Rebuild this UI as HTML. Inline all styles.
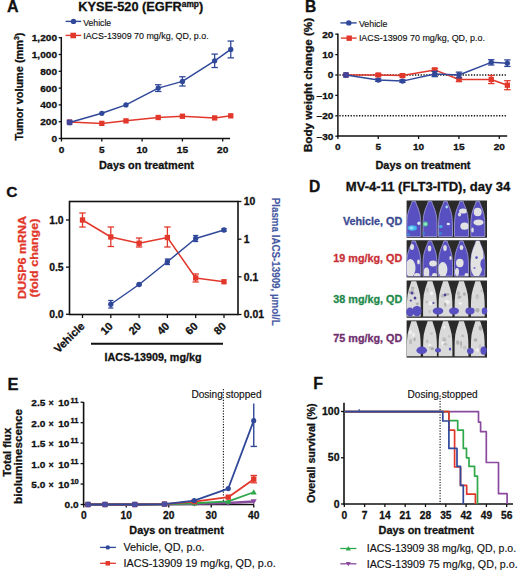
<!DOCTYPE html>
<html><head><meta charset="utf-8"><style>
html,body{margin:0;padding:0;background:#fff;}
svg{display:block;font-family:"Liberation Sans", sans-serif;}
</style></head><body>
<svg width="520" height="571" viewBox="0 0 520 571">
<rect width="520" height="571" fill="#fff"/>
<text x="7.00" y="12.00" font-size="16" font-weight="bold" text-anchor="start" fill="#111"  stroke="#111" stroke-width="0.3">A</text>
<text x="78.3" y="11" font-size="12.75" font-weight="bold" fill="#111" stroke="#111" stroke-width="0.3">KYSE-520 (EGFR<tspan font-size="8.4" dy="-3.6">amp</tspan><tspan dy="3.6">)</tspan></text>
<line x1="65.60" y1="21.40" x2="81.20" y2="21.40" stroke="#30489a" stroke-width="1.4" />
<circle cx="73.50" cy="21.40" r="2.7" fill="#30489a"/>
<text x="83.20" y="25.60" font-size="9.4" font-weight="normal" text-anchor="start" fill="#111" textLength="28" lengthAdjust="spacingAndGlyphs"  stroke="#111" stroke-width="0.15">Vehicle</text>
<line x1="65.60" y1="35.40" x2="81.20" y2="35.40" stroke="#e2382c" stroke-width="1.4" />
<rect x="70.40" y="32.70" width="5.6" height="5.6" fill="#e2382c"/>
<text x="83.20" y="38.80" font-size="9.4" font-weight="normal" text-anchor="start" fill="#111" textLength="125.5" lengthAdjust="spacingAndGlyphs"  stroke="#111" stroke-width="0.15">IACS-13909 70 mg/kg, QD, p.o.</text>
<line x1="61.30" y1="37.00" x2="61.30" y2="139.20" stroke="#111" stroke-width="1.5" />
<line x1="60.60" y1="138.50" x2="230.00" y2="138.50" stroke="#111" stroke-width="1.5" />
<line x1="58.70" y1="138.50" x2="61.30" y2="138.50" stroke="#111" stroke-width="1.3" />
<text transform="translate(57.00,141.90) scale(1.02,1)" font-size="9.9" font-weight="bold" text-anchor="end" fill="#111"  stroke="#111" stroke-width="0.3">0</text>
<line x1="58.70" y1="121.70" x2="61.30" y2="121.70" stroke="#111" stroke-width="1.3" />
<text transform="translate(57.00,125.10) scale(1.02,1)" font-size="9.9" font-weight="bold" text-anchor="end" fill="#111"  stroke="#111" stroke-width="0.3">200</text>
<line x1="58.70" y1="104.90" x2="61.30" y2="104.90" stroke="#111" stroke-width="1.3" />
<text transform="translate(57.00,108.30) scale(1.02,1)" font-size="9.9" font-weight="bold" text-anchor="end" fill="#111"  stroke="#111" stroke-width="0.3">400</text>
<line x1="58.70" y1="88.10" x2="61.30" y2="88.10" stroke="#111" stroke-width="1.3" />
<text transform="translate(57.00,91.50) scale(1.02,1)" font-size="9.9" font-weight="bold" text-anchor="end" fill="#111"  stroke="#111" stroke-width="0.3">600</text>
<line x1="58.70" y1="71.30" x2="61.30" y2="71.30" stroke="#111" stroke-width="1.3" />
<text transform="translate(57.00,74.70) scale(1.02,1)" font-size="9.9" font-weight="bold" text-anchor="end" fill="#111"  stroke="#111" stroke-width="0.3">800</text>
<line x1="58.70" y1="54.50" x2="61.30" y2="54.50" stroke="#111" stroke-width="1.3" />
<text transform="translate(57.00,57.90) scale(1.02,1)" font-size="9.9" font-weight="bold" text-anchor="end" fill="#111"  stroke="#111" stroke-width="0.3">1,000</text>
<line x1="58.70" y1="37.70" x2="61.30" y2="37.70" stroke="#111" stroke-width="1.3" />
<text transform="translate(57.00,41.10) scale(1.02,1)" font-size="9.9" font-weight="bold" text-anchor="end" fill="#111"  stroke="#111" stroke-width="0.3">1,200</text>
<line x1="61.50" y1="138.50" x2="61.50" y2="141.50" stroke="#111" stroke-width="1.3" />
<text transform="translate(61.50,152.50) scale(1.02,1)" font-size="9.9" font-weight="bold" text-anchor="middle" fill="#111"  stroke="#111" stroke-width="0.3">0</text>
<line x1="101.80" y1="138.50" x2="101.80" y2="141.50" stroke="#111" stroke-width="1.3" />
<text transform="translate(101.80,152.50) scale(1.02,1)" font-size="9.9" font-weight="bold" text-anchor="middle" fill="#111"  stroke="#111" stroke-width="0.3">5</text>
<line x1="142.10" y1="138.50" x2="142.10" y2="141.50" stroke="#111" stroke-width="1.3" />
<text transform="translate(142.10,152.50) scale(1.02,1)" font-size="9.9" font-weight="bold" text-anchor="middle" fill="#111"  stroke="#111" stroke-width="0.3">10</text>
<line x1="182.40" y1="138.50" x2="182.40" y2="141.50" stroke="#111" stroke-width="1.3" />
<text transform="translate(182.40,152.50) scale(1.02,1)" font-size="9.9" font-weight="bold" text-anchor="middle" fill="#111"  stroke="#111" stroke-width="0.3">15</text>
<line x1="222.70" y1="138.50" x2="222.70" y2="141.50" stroke="#111" stroke-width="1.3" />
<text transform="translate(222.70,152.50) scale(1.02,1)" font-size="9.9" font-weight="bold" text-anchor="middle" fill="#111"  stroke="#111" stroke-width="0.3">20</text>
<text x="146.50" y="168.80" font-size="11" font-weight="bold" text-anchor="middle" fill="#111" textLength="95" lengthAdjust="spacingAndGlyphs"  stroke="#111" stroke-width="0.3">Days on treatment</text>
<text transform="translate(22.8,86.5) rotate(-90)" font-size="11" font-weight="bold" text-anchor="middle" fill="#111" textLength="108" lengthAdjust="spacingAndGlyphs" stroke="#111" stroke-width="0.3">Tumor volume (mm<tspan font-size="7" dy="-4">3</tspan><tspan dy="4">)</tspan></text>
<polyline points="69.56,122.12 101.80,123.38 125.98,120.86 158.22,117.50 182.40,116.24 214.64,117.92 230.76,115.82" fill="none" stroke="#e2382c" stroke-width="1.5" stroke-linejoin="round" />
<rect x="66.90" y="119.46" width="5.319999999999999" height="5.319999999999999" fill="#e2382c"/>
<rect x="99.14" y="120.72" width="5.319999999999999" height="5.319999999999999" fill="#e2382c"/>
<rect x="123.32" y="118.20" width="5.319999999999999" height="5.319999999999999" fill="#e2382c"/>
<rect x="155.56" y="114.84" width="5.319999999999999" height="5.319999999999999" fill="#e2382c"/>
<rect x="179.74" y="113.58" width="5.319999999999999" height="5.319999999999999" fill="#e2382c"/>
<rect x="211.98" y="115.26" width="5.319999999999999" height="5.319999999999999" fill="#e2382c"/>
<rect x="228.10" y="113.16" width="5.319999999999999" height="5.319999999999999" fill="#e2382c"/>
<line x1="158.22" y1="91.46" x2="158.22" y2="84.74" stroke="#30489a" stroke-width="1.3" />
<line x1="155.02" y1="91.46" x2="161.42" y2="91.46" stroke="#30489a" stroke-width="1.3" />
<line x1="155.02" y1="84.74" x2="161.42" y2="84.74" stroke="#30489a" stroke-width="1.3" />
<line x1="182.40" y1="86.00" x2="182.40" y2="76.76" stroke="#30489a" stroke-width="1.3" />
<line x1="179.20" y1="86.00" x2="185.60" y2="86.00" stroke="#30489a" stroke-width="1.3" />
<line x1="179.20" y1="76.76" x2="185.60" y2="76.76" stroke="#30489a" stroke-width="1.3" />
<line x1="214.64" y1="67.52" x2="214.64" y2="54.08" stroke="#30489a" stroke-width="1.3" />
<line x1="211.44" y1="67.52" x2="217.84" y2="67.52" stroke="#30489a" stroke-width="1.3" />
<line x1="211.44" y1="54.08" x2="217.84" y2="54.08" stroke="#30489a" stroke-width="1.3" />
<line x1="230.76" y1="57.86" x2="230.76" y2="41.06" stroke="#30489a" stroke-width="1.3" />
<line x1="227.56" y1="57.86" x2="233.96" y2="57.86" stroke="#30489a" stroke-width="1.3" />
<line x1="227.56" y1="41.06" x2="233.96" y2="41.06" stroke="#30489a" stroke-width="1.3" />
<polyline points="69.56,122.54 101.80,113.30 125.98,104.90 158.22,88.10 182.40,81.38 214.64,60.80 230.76,49.46" fill="none" stroke="#30489a" stroke-width="1.5" stroke-linejoin="round" />
<circle cx="69.56" cy="122.54" r="2.65" fill="#30489a"/>
<circle cx="101.80" cy="113.30" r="2.65" fill="#30489a"/>
<circle cx="125.98" cy="104.90" r="2.65" fill="#30489a"/>
<circle cx="158.22" cy="88.10" r="2.65" fill="#30489a"/>
<circle cx="182.40" cy="81.38" r="2.65" fill="#30489a"/>
<circle cx="214.64" cy="60.80" r="2.65" fill="#30489a"/>
<circle cx="230.76" cy="49.46" r="2.65" fill="#30489a"/>
<rect x="66.76" y="119.57" width="5.6" height="5.6" rx="0.8" fill="#44449a"/>
<text x="305.00" y="11.90" font-size="15.6" font-weight="bold" text-anchor="start" fill="#111"  stroke="#111" stroke-width="0.3">B</text>
<line x1="340.40" y1="22.90" x2="356.60" y2="22.90" stroke="#30489a" stroke-width="1.4" />
<circle cx="348.80" cy="22.90" r="2.7" fill="#30489a"/>
<text x="358.90" y="27.30" font-size="9.4" font-weight="normal" text-anchor="start" fill="#111" textLength="28.5" lengthAdjust="spacingAndGlyphs"  stroke="#111" stroke-width="0.15">Vehicle</text>
<line x1="341.00" y1="38.10" x2="356.60" y2="38.10" stroke="#e2382c" stroke-width="1.4" />
<rect x="346.50" y="35.50" width="5.4" height="5.4" fill="#e2382c"/>
<text x="358.90" y="40.60" font-size="9.4" font-weight="normal" text-anchor="start" fill="#111" textLength="126" lengthAdjust="spacingAndGlyphs"  stroke="#111" stroke-width="0.15">IACS-13909 70 mg/kg, QD, p.o.</text>
<line x1="337.90" y1="33.50" x2="337.90" y2="136.70" stroke="#111" stroke-width="1.5" />
<line x1="337.20" y1="136.00" x2="507.20" y2="136.00" stroke="#111" stroke-width="1.5" />
<line x1="335.30" y1="34.20" x2="337.90" y2="34.20" stroke="#111" stroke-width="1.3" />
<text transform="translate(333.40,37.60) scale(1.02,1)" font-size="9.9" font-weight="bold" text-anchor="end" fill="#111"  stroke="#111" stroke-width="0.3">20</text>
<line x1="335.30" y1="54.60" x2="337.90" y2="54.60" stroke="#111" stroke-width="1.3" />
<text transform="translate(333.40,58.00) scale(1.02,1)" font-size="9.9" font-weight="bold" text-anchor="end" fill="#111"  stroke="#111" stroke-width="0.3">10</text>
<line x1="335.30" y1="75.00" x2="337.90" y2="75.00" stroke="#111" stroke-width="1.3" />
<text transform="translate(333.40,78.40) scale(1.02,1)" font-size="9.9" font-weight="bold" text-anchor="end" fill="#111"  stroke="#111" stroke-width="0.3">0</text>
<line x1="335.30" y1="95.40" x2="337.90" y2="95.40" stroke="#111" stroke-width="1.3" />
<text transform="translate(333.40,98.80) scale(1.02,1)" font-size="9.9" font-weight="bold" text-anchor="end" fill="#111"  stroke="#111" stroke-width="0.3">–10</text>
<line x1="335.30" y1="115.80" x2="337.90" y2="115.80" stroke="#111" stroke-width="1.3" />
<text transform="translate(333.40,119.20) scale(1.02,1)" font-size="9.9" font-weight="bold" text-anchor="end" fill="#111"  stroke="#111" stroke-width="0.3">–20</text>
<line x1="335.30" y1="136.20" x2="337.90" y2="136.20" stroke="#111" stroke-width="1.3" />
<text transform="translate(333.40,139.60) scale(1.02,1)" font-size="9.9" font-weight="bold" text-anchor="end" fill="#111"  stroke="#111" stroke-width="0.3">–30</text>
<line x1="337.90" y1="136.00" x2="337.90" y2="139.00" stroke="#111" stroke-width="1.3" />
<text transform="translate(337.90,150.00) scale(1.02,1)" font-size="9.9" font-weight="bold" text-anchor="middle" fill="#111"  stroke="#111" stroke-width="0.3">0</text>
<line x1="378.25" y1="136.00" x2="378.25" y2="139.00" stroke="#111" stroke-width="1.3" />
<text transform="translate(378.25,150.00) scale(1.02,1)" font-size="9.9" font-weight="bold" text-anchor="middle" fill="#111"  stroke="#111" stroke-width="0.3">5</text>
<line x1="418.60" y1="136.00" x2="418.60" y2="139.00" stroke="#111" stroke-width="1.3" />
<text transform="translate(418.60,150.00) scale(1.02,1)" font-size="9.9" font-weight="bold" text-anchor="middle" fill="#111"  stroke="#111" stroke-width="0.3">10</text>
<line x1="458.95" y1="136.00" x2="458.95" y2="139.00" stroke="#111" stroke-width="1.3" />
<text transform="translate(458.95,150.00) scale(1.02,1)" font-size="9.9" font-weight="bold" text-anchor="middle" fill="#111"  stroke="#111" stroke-width="0.3">15</text>
<line x1="499.30" y1="136.00" x2="499.30" y2="139.00" stroke="#111" stroke-width="1.3" />
<text transform="translate(499.30,150.00) scale(1.02,1)" font-size="9.9" font-weight="bold" text-anchor="middle" fill="#111"  stroke="#111" stroke-width="0.3">20</text>
<text x="423.00" y="168.80" font-size="11" font-weight="bold" text-anchor="middle" fill="#111" textLength="95" lengthAdjust="spacingAndGlyphs"  stroke="#111" stroke-width="0.3">Days on treatment</text>
<text transform="translate(311.5,85) rotate(-90)" font-size="11" font-weight="bold" text-anchor="middle" fill="#111" textLength="134" lengthAdjust="spacingAndGlyphs" stroke="#111" stroke-width="0.3">Body weight change (%)</text>
<line x1="339.40" y1="75.00" x2="507.00" y2="75.00" stroke="#111" stroke-width="1.4" stroke-dasharray="1.3 1.5"/>
<line x1="339.40" y1="115.80" x2="507.00" y2="115.80" stroke="#111" stroke-width="1.4" stroke-dasharray="1.3 1.5"/>
<line x1="378.25" y1="76.22" x2="378.25" y2="73.78" stroke="#e2382c" stroke-width="1.3" />
<line x1="375.05" y1="76.22" x2="381.45" y2="76.22" stroke="#e2382c" stroke-width="1.3" />
<line x1="375.05" y1="73.78" x2="381.45" y2="73.78" stroke="#e2382c" stroke-width="1.3" />
<line x1="402.46" y1="76.84" x2="402.46" y2="74.39" stroke="#e2382c" stroke-width="1.3" />
<line x1="399.26" y1="76.84" x2="405.66" y2="76.84" stroke="#e2382c" stroke-width="1.3" />
<line x1="399.26" y1="74.39" x2="405.66" y2="74.39" stroke="#e2382c" stroke-width="1.3" />
<line x1="434.74" y1="71.33" x2="434.74" y2="68.47" stroke="#e2382c" stroke-width="1.3" />
<line x1="431.54" y1="71.33" x2="437.94" y2="71.33" stroke="#e2382c" stroke-width="1.3" />
<line x1="431.54" y1="68.47" x2="437.94" y2="68.47" stroke="#e2382c" stroke-width="1.3" />
<line x1="458.95" y1="81.53" x2="458.95" y2="77.45" stroke="#e2382c" stroke-width="1.3" />
<line x1="455.75" y1="81.53" x2="462.15" y2="81.53" stroke="#e2382c" stroke-width="1.3" />
<line x1="455.75" y1="77.45" x2="462.15" y2="77.45" stroke="#e2382c" stroke-width="1.3" />
<line x1="491.23" y1="83.57" x2="491.23" y2="75.41" stroke="#e2382c" stroke-width="1.3" />
<line x1="488.03" y1="83.57" x2="494.43" y2="83.57" stroke="#e2382c" stroke-width="1.3" />
<line x1="488.03" y1="75.41" x2="494.43" y2="75.41" stroke="#e2382c" stroke-width="1.3" />
<line x1="507.37" y1="89.69" x2="507.37" y2="80.71" stroke="#e2382c" stroke-width="1.3" />
<line x1="504.17" y1="89.69" x2="510.57" y2="89.69" stroke="#e2382c" stroke-width="1.3" />
<line x1="504.17" y1="80.71" x2="510.57" y2="80.71" stroke="#e2382c" stroke-width="1.3" />
<polyline points="345.97,75.00 378.25,75.00 402.46,75.61 434.74,69.90 458.95,79.49 491.23,79.49 507.37,85.20" fill="none" stroke="#e2382c" stroke-width="1.5" stroke-linejoin="round" />
<rect x="343.31" y="72.34" width="5.319999999999999" height="5.319999999999999" fill="#e2382c"/>
<rect x="375.59" y="72.34" width="5.319999999999999" height="5.319999999999999" fill="#e2382c"/>
<rect x="399.80" y="72.95" width="5.319999999999999" height="5.319999999999999" fill="#e2382c"/>
<rect x="432.08" y="67.24" width="5.319999999999999" height="5.319999999999999" fill="#e2382c"/>
<rect x="456.29" y="76.83" width="5.319999999999999" height="5.319999999999999" fill="#e2382c"/>
<rect x="488.57" y="76.83" width="5.319999999999999" height="5.319999999999999" fill="#e2382c"/>
<rect x="504.71" y="82.54" width="5.319999999999999" height="5.319999999999999" fill="#e2382c"/>
<line x1="378.25" y1="81.32" x2="378.25" y2="78.88" stroke="#30489a" stroke-width="1.3" />
<line x1="375.05" y1="81.32" x2="381.45" y2="81.32" stroke="#30489a" stroke-width="1.3" />
<line x1="375.05" y1="78.88" x2="381.45" y2="78.88" stroke="#30489a" stroke-width="1.3" />
<line x1="402.46" y1="82.34" x2="402.46" y2="79.90" stroke="#30489a" stroke-width="1.3" />
<line x1="399.26" y1="82.34" x2="405.66" y2="82.34" stroke="#30489a" stroke-width="1.3" />
<line x1="399.26" y1="79.90" x2="405.66" y2="79.90" stroke="#30489a" stroke-width="1.3" />
<line x1="434.74" y1="76.63" x2="434.74" y2="71.33" stroke="#30489a" stroke-width="1.3" />
<line x1="431.54" y1="76.63" x2="437.94" y2="76.63" stroke="#30489a" stroke-width="1.3" />
<line x1="431.54" y1="71.33" x2="437.94" y2="71.33" stroke="#30489a" stroke-width="1.3" />
<line x1="458.95" y1="77.86" x2="458.95" y2="72.14" stroke="#30489a" stroke-width="1.3" />
<line x1="455.75" y1="77.86" x2="462.15" y2="77.86" stroke="#30489a" stroke-width="1.3" />
<line x1="455.75" y1="72.14" x2="462.15" y2="72.14" stroke="#30489a" stroke-width="1.3" />
<line x1="491.23" y1="65.00" x2="491.23" y2="59.70" stroke="#30489a" stroke-width="1.3" />
<line x1="488.03" y1="65.00" x2="494.43" y2="65.00" stroke="#30489a" stroke-width="1.3" />
<line x1="488.03" y1="59.70" x2="494.43" y2="59.70" stroke="#30489a" stroke-width="1.3" />
<line x1="507.37" y1="66.43" x2="507.37" y2="59.90" stroke="#30489a" stroke-width="1.3" />
<line x1="504.17" y1="66.43" x2="510.57" y2="66.43" stroke="#30489a" stroke-width="1.3" />
<line x1="504.17" y1="59.90" x2="510.57" y2="59.90" stroke="#30489a" stroke-width="1.3" />
<polyline points="345.97,75.00 378.25,80.10 402.46,81.12 434.74,73.98 458.95,75.00 491.23,62.35 507.37,63.17" fill="none" stroke="#30489a" stroke-width="1.5" stroke-linejoin="round" />
<circle cx="345.97" cy="75.00" r="2.65" fill="#30489a"/>
<circle cx="378.25" cy="80.10" r="2.65" fill="#30489a"/>
<circle cx="402.46" cy="81.12" r="2.65" fill="#30489a"/>
<circle cx="434.74" cy="73.98" r="2.65" fill="#30489a"/>
<circle cx="458.95" cy="75.00" r="2.65" fill="#30489a"/>
<circle cx="491.23" cy="62.35" r="2.65" fill="#30489a"/>
<circle cx="507.37" cy="63.17" r="2.65" fill="#30489a"/>
<rect x="343.17" y="72.20" width="5.6" height="5.6" rx="0.8" fill="#44449a"/>
<text x="6.30" y="196.70" font-size="15.5" font-weight="bold" text-anchor="start" fill="#111"  stroke="#111" stroke-width="0.3">C</text>
<rect x="69.5" y="201.5" width="168.5" height="113.0" fill="none" stroke="#111" stroke-width="1.6"/>
<line x1="66.00" y1="220.00" x2="69.50" y2="220.00" stroke="#111" stroke-width="1.3" />
<text x="63.60" y="223.90" font-size="10.4" font-weight="bold" text-anchor="end" fill="#111"  stroke="#111" stroke-width="0.3">1.0</text>
<line x1="66.00" y1="267.15" x2="69.50" y2="267.15" stroke="#111" stroke-width="1.3" />
<text x="63.60" y="271.05" font-size="10.4" font-weight="bold" text-anchor="end" fill="#111"  stroke="#111" stroke-width="0.3">0.5</text>
<line x1="66.00" y1="314.30" x2="69.50" y2="314.30" stroke="#111" stroke-width="1.3" />
<text x="63.60" y="318.20" font-size="10.4" font-weight="bold" text-anchor="end" fill="#111"  stroke="#111" stroke-width="0.3">0.0</text>
<line x1="238.00" y1="201.49" x2="241.50" y2="201.49" stroke="#111" stroke-width="1.3" />
<text x="243.80" y="205.19" font-size="10.4" font-weight="bold" text-anchor="start" fill="#111"  stroke="#111" stroke-width="0.3">10</text>
<line x1="238.00" y1="239.16" x2="241.50" y2="239.16" stroke="#111" stroke-width="1.3" />
<text x="243.80" y="242.86" font-size="10.4" font-weight="bold" text-anchor="start" fill="#111"  stroke="#111" stroke-width="0.3">1</text>
<line x1="238.00" y1="276.83" x2="241.50" y2="276.83" stroke="#111" stroke-width="1.3" />
<text x="243.80" y="280.53" font-size="10.4" font-weight="bold" text-anchor="start" fill="#111"  stroke="#111" stroke-width="0.3">0.1</text>
<line x1="238.00" y1="314.50" x2="241.50" y2="314.50" stroke="#111" stroke-width="1.3" />
<text x="243.80" y="318.20" font-size="10.4" font-weight="bold" text-anchor="start" fill="#111"  stroke="#111" stroke-width="0.3">0.01</text>
<line x1="82.50" y1="314.50" x2="82.50" y2="318.00" stroke="#111" stroke-width="1.3" />
<text transform="translate(85.30,326.80) rotate(-45)" font-size="11" font-weight="bold" text-anchor="end" fill="#111" stroke="#111" stroke-width="0.3">Vehicle</text>
<line x1="110.80" y1="314.50" x2="110.80" y2="318.00" stroke="#111" stroke-width="1.3" />
<text transform="translate(113.60,326.80) rotate(-45)" font-size="11" font-weight="bold" text-anchor="end" fill="#111" stroke="#111" stroke-width="0.3">10</text>
<line x1="139.10" y1="314.50" x2="139.10" y2="318.00" stroke="#111" stroke-width="1.3" />
<text transform="translate(141.90,326.80) rotate(-45)" font-size="11" font-weight="bold" text-anchor="end" fill="#111" stroke="#111" stroke-width="0.3">20</text>
<line x1="167.40" y1="314.50" x2="167.40" y2="318.00" stroke="#111" stroke-width="1.3" />
<text transform="translate(170.20,326.80) rotate(-45)" font-size="11" font-weight="bold" text-anchor="end" fill="#111" stroke="#111" stroke-width="0.3">40</text>
<line x1="195.70" y1="314.50" x2="195.70" y2="318.00" stroke="#111" stroke-width="1.3" />
<text transform="translate(198.50,326.80) rotate(-45)" font-size="11" font-weight="bold" text-anchor="end" fill="#111" stroke="#111" stroke-width="0.3">60</text>
<line x1="224.00" y1="314.50" x2="224.00" y2="318.00" stroke="#111" stroke-width="1.3" />
<text transform="translate(226.80,326.80) rotate(-45)" font-size="11" font-weight="bold" text-anchor="end" fill="#111" stroke="#111" stroke-width="0.3">80</text>
<line x1="91.00" y1="343.75" x2="223.00" y2="343.75" stroke="#111" stroke-width="2.0" />
<text x="104.60" y="360.50" font-size="10.8" font-weight="bold" text-anchor="start" fill="#111" textLength="97" lengthAdjust="spacingAndGlyphs"  stroke="#111" stroke-width="0.3">IACS-13909, mg/kg</text>
<text transform="translate(26,257.5) rotate(-90)" font-size="11.5" font-weight="bold" text-anchor="middle" fill="#e2382c" textLength="83" lengthAdjust="spacingAndGlyphs" stroke="#e2382c" stroke-width="0.3">DUSP6 mRNA</text>
<text transform="translate(37.6,258) rotate(-90)" font-size="11.5" font-weight="bold" text-anchor="middle" fill="#e2382c" textLength="79" lengthAdjust="spacingAndGlyphs" stroke="#e2382c" stroke-width="0.3">(fold change)</text>
<text transform="translate(271.5,261.7) rotate(90)" font-size="10.5" font-weight="bold" text-anchor="middle" fill="#4659a3" stroke="#4659a3" stroke-width="0.15" textLength="128" lengthAdjust="spacingAndGlyphs">Plasma IACS-13909, µmol/L</text>
<line x1="82.50" y1="213.00" x2="82.50" y2="227.00" stroke="#e2382c" stroke-width="1.3" />
<line x1="79.30" y1="213.00" x2="85.70" y2="213.00" stroke="#e2382c" stroke-width="1.3" />
<line x1="79.30" y1="227.00" x2="85.70" y2="227.00" stroke="#e2382c" stroke-width="1.3" />
<line x1="110.80" y1="227.00" x2="110.80" y2="246.50" stroke="#e2382c" stroke-width="1.3" />
<line x1="107.60" y1="227.00" x2="114.00" y2="227.00" stroke="#e2382c" stroke-width="1.3" />
<line x1="107.60" y1="246.50" x2="114.00" y2="246.50" stroke="#e2382c" stroke-width="1.3" />
<line x1="139.10" y1="238.00" x2="139.10" y2="247.00" stroke="#e2382c" stroke-width="1.3" />
<line x1="135.90" y1="238.00" x2="142.30" y2="238.00" stroke="#e2382c" stroke-width="1.3" />
<line x1="135.90" y1="247.00" x2="142.30" y2="247.00" stroke="#e2382c" stroke-width="1.3" />
<line x1="167.40" y1="227.00" x2="167.40" y2="247.00" stroke="#e2382c" stroke-width="1.3" />
<line x1="164.20" y1="227.00" x2="170.60" y2="227.00" stroke="#e2382c" stroke-width="1.3" />
<line x1="164.20" y1="247.00" x2="170.60" y2="247.00" stroke="#e2382c" stroke-width="1.3" />
<line x1="195.70" y1="274.00" x2="195.70" y2="282.00" stroke="#e2382c" stroke-width="1.3" />
<line x1="192.50" y1="274.00" x2="198.90" y2="274.00" stroke="#e2382c" stroke-width="1.3" />
<line x1="192.50" y1="282.00" x2="198.90" y2="282.00" stroke="#e2382c" stroke-width="1.3" />
<polyline points="82.50,220.00 110.80,237.00 139.10,243.25 167.40,237.50 195.70,278.00 224.00,281.75" fill="none" stroke="#e2382c" stroke-width="1.5" stroke-linejoin="round" />
<rect x="79.84" y="217.34" width="5.319999999999999" height="5.319999999999999" fill="#e2382c"/>
<rect x="108.14" y="234.34" width="5.319999999999999" height="5.319999999999999" fill="#e2382c"/>
<rect x="136.44" y="240.59" width="5.319999999999999" height="5.319999999999999" fill="#e2382c"/>
<rect x="164.74" y="234.84" width="5.319999999999999" height="5.319999999999999" fill="#e2382c"/>
<rect x="193.04" y="275.34" width="5.319999999999999" height="5.319999999999999" fill="#e2382c"/>
<rect x="221.34" y="279.09" width="5.319999999999999" height="5.319999999999999" fill="#e2382c"/>
<line x1="110.80" y1="300.50" x2="110.80" y2="308.00" stroke="#30489a" stroke-width="1.3" />
<line x1="108.20" y1="300.50" x2="113.40" y2="300.50" stroke="#30489a" stroke-width="1.3" />
<line x1="108.20" y1="308.00" x2="113.40" y2="308.00" stroke="#30489a" stroke-width="1.3" />
<line x1="139.10" y1="284.00" x2="139.10" y2="285.00" stroke="#30489a" stroke-width="1.3" />
<line x1="136.50" y1="284.00" x2="141.70" y2="284.00" stroke="#30489a" stroke-width="1.3" />
<line x1="136.50" y1="285.00" x2="141.70" y2="285.00" stroke="#30489a" stroke-width="1.3" />
<line x1="167.40" y1="259.00" x2="167.40" y2="264.50" stroke="#30489a" stroke-width="1.3" />
<line x1="164.80" y1="259.00" x2="170.00" y2="259.00" stroke="#30489a" stroke-width="1.3" />
<line x1="164.80" y1="264.50" x2="170.00" y2="264.50" stroke="#30489a" stroke-width="1.3" />
<line x1="195.70" y1="235.50" x2="195.70" y2="241.50" stroke="#30489a" stroke-width="1.3" />
<line x1="193.10" y1="235.50" x2="198.30" y2="235.50" stroke="#30489a" stroke-width="1.3" />
<line x1="193.10" y1="241.50" x2="198.30" y2="241.50" stroke="#30489a" stroke-width="1.3" />
<line x1="224.00" y1="228.60" x2="224.00" y2="231.40" stroke="#30489a" stroke-width="1.3" />
<line x1="221.40" y1="228.60" x2="226.60" y2="228.60" stroke="#30489a" stroke-width="1.3" />
<line x1="221.40" y1="231.40" x2="226.60" y2="231.40" stroke="#30489a" stroke-width="1.3" />
<polyline points="110.80,304.25 139.10,284.50 167.40,261.75 195.70,238.50 224.00,230.00" fill="none" stroke="#30489a" stroke-width="1.5" stroke-linejoin="round" />
<circle cx="110.80" cy="304.25" r="2.65" fill="#30489a"/>
<circle cx="139.10" cy="284.50" r="2.65" fill="#30489a"/>
<circle cx="167.40" cy="261.75" r="2.65" fill="#30489a"/>
<circle cx="195.70" cy="238.50" r="2.65" fill="#30489a"/>
<circle cx="224.00" cy="230.00" r="2.65" fill="#30489a"/>
<text x="309.00" y="191.50" font-size="15.6" font-weight="bold" text-anchor="start" fill="#111"  stroke="#111" stroke-width="0.3">D</text>
<text x="345.80" y="191.20" font-size="13" font-weight="bold" text-anchor="start" fill="#111" textLength="164.6" lengthAdjust="spacingAndGlyphs"  stroke="#111" stroke-width="0.3">MV-4-11 (FLT3-ITD), day 34</text>
<defs><filter id="bl" x="-5%" y="-5%" width="110%" height="110%"><feGaussianBlur stdDeviation="0.6"/></filter></defs>
<g filter="url(#bl)">
<rect x="406.6" y="200.5" width="80.39999999999998" height="37.30000000000001" fill="#2b2b2b"/>
<clipPath id="mc0"><path d="M415.40,201.30 L416.30,204.12 L418.37,209.04 L419.99,214.68 L420.65,220.66 L420.80,225.94 L420.80,236.50 L406.80,236.50 L406.80,225.94 L406.95,220.66 L407.61,214.68 L409.23,209.04 L411.30,204.12 L412.20,201.30Z"/><path d="M431.60,201.30 L432.50,204.12 L434.57,209.04 L436.19,214.68 L436.85,220.66 L437.00,225.94 L437.00,236.50 L423.00,236.50 L423.00,225.94 L423.15,220.66 L423.81,214.68 L425.43,209.04 L427.50,204.12 L428.40,201.30Z"/><path d="M447.10,201.30 L448.00,204.12 L450.07,209.04 L451.69,214.68 L452.35,220.66 L452.50,225.94 L452.50,236.50 L438.50,236.50 L438.50,225.94 L438.65,220.66 L439.31,214.68 L440.93,209.04 L443.00,204.12 L443.90,201.30Z"/><path d="M463.10,201.30 L464.00,204.12 L466.07,209.04 L467.69,214.68 L468.35,220.66 L468.50,225.94 L468.50,236.50 L454.50,236.50 L454.50,225.94 L454.65,220.66 L455.31,214.68 L456.93,209.04 L459.00,204.12 L459.90,201.30Z"/><path d="M479.40,201.30 L480.30,204.12 L482.37,209.04 L483.99,214.68 L484.65,220.66 L484.80,225.94 L484.80,236.50 L470.80,236.50 L470.80,225.94 L470.95,220.66 L471.61,214.68 L473.23,209.04 L475.30,204.12 L476.20,201.30Z"/></clipPath>
<path d="M415.40,201.30 L416.30,204.12 L418.37,209.04 L419.99,214.68 L420.65,220.66 L420.80,225.94 L420.80,236.50 L406.80,236.50 L406.80,225.94 L406.95,220.66 L407.61,214.68 L409.23,209.04 L411.30,204.12 L412.20,201.30Z" fill="#5850c0" stroke="#9a94d4" stroke-width="0.9"/>
<path d="M431.60,201.30 L432.50,204.12 L434.57,209.04 L436.19,214.68 L436.85,220.66 L437.00,225.94 L437.00,236.50 L423.00,236.50 L423.00,225.94 L423.15,220.66 L423.81,214.68 L425.43,209.04 L427.50,204.12 L428.40,201.30Z" fill="#5850c0" stroke="#9a94d4" stroke-width="0.9"/>
<path d="M447.10,201.30 L448.00,204.12 L450.07,209.04 L451.69,214.68 L452.35,220.66 L452.50,225.94 L452.50,236.50 L438.50,236.50 L438.50,225.94 L438.65,220.66 L439.31,214.68 L440.93,209.04 L443.00,204.12 L443.90,201.30Z" fill="#5850c0" stroke="#9a94d4" stroke-width="0.9"/>
<path d="M463.10,201.30 L464.00,204.12 L466.07,209.04 L467.69,214.68 L468.35,220.66 L468.50,225.94 L468.50,236.50 L454.50,236.50 L454.50,225.94 L454.65,220.66 L455.31,214.68 L456.93,209.04 L459.00,204.12 L459.90,201.30Z" fill="#5850c0" stroke="#9a94d4" stroke-width="0.9"/>
<path d="M479.40,201.30 L480.30,204.12 L482.37,209.04 L483.99,214.68 L484.65,220.66 L484.80,225.94 L484.80,236.50 L470.80,236.50 L470.80,225.94 L470.95,220.66 L471.61,214.68 L473.23,209.04 L475.30,204.12 L476.20,201.30Z" fill="#5850c0" stroke="#9a94d4" stroke-width="0.9"/>
<g clip-path="url(#mc0)">
<ellipse cx="412.3" cy="228.0" rx="4.6" ry="2.7" fill="#45b5ee"/>
<ellipse cx="411.5" cy="228.0" rx="2.2" ry="1.4" fill="#8fe0ff"/>
<ellipse cx="440.8" cy="226.5" rx="1.8" ry="1.6" fill="#4ab0e8"/>
<ellipse cx="418.9" cy="223.3" rx="1.6" ry="1.8" fill="#d8e0f4"/>
<ellipse cx="425.4" cy="224.1" rx="2.5" ry="2.5" fill="#5cc8a0"/>
<ellipse cx="425.4" cy="224.1" rx="1.2" ry="1.2" fill="#a0f0d0"/>
<ellipse cx="408.5" cy="234.5" rx="1.6" ry="1.3" fill="#3a88d8"/>
<ellipse cx="423.5" cy="233.5" rx="1.5" ry="1.2" fill="#3a88d8"/>
<ellipse cx="446.7" cy="207.0" rx="1.3" ry="1.4" fill="#a8d8f8"/>
<ellipse cx="448.3" cy="224.0" rx="1.7" ry="1.2" fill="#e4e8f8"/>
<ellipse cx="440.5" cy="233.5" rx="1.4" ry="1.2" fill="#3a88d8"/>
<ellipse cx="463.0" cy="211.0" rx="4.0" ry="2.6" fill="#e2e2e2"/>
<ellipse cx="459.5" cy="214.5" rx="1.5" ry="2.0" fill="#e2e2e2"/>
<ellipse cx="464.6" cy="226.2" rx="4.2" ry="3.6" fill="#e2e2e2"/>
<ellipse cx="477.7" cy="212.0" rx="4.0" ry="4.2" fill="#e2e2e2"/>
<ellipse cx="478.5" cy="222.4" rx="5.0" ry="3.0" fill="#e2e2e2"/>
<ellipse cx="472.5" cy="230.0" rx="1.3" ry="2.5" fill="#e2e2e2"/>
</g>
<rect x="406.6" y="240.2" width="80.39999999999998" height="37.19999999999999" fill="#2b2b2b"/>
<clipPath id="mc1"><path d="M415.40,241.00 L416.30,243.81 L418.37,248.72 L419.99,254.34 L420.65,260.31 L420.80,265.57 L420.80,276.10 L406.80,276.10 L406.80,265.57 L406.95,260.31 L407.61,254.34 L409.23,248.72 L411.30,243.81 L412.20,241.00Z"/><path d="M431.60,241.00 L432.50,243.81 L434.57,248.72 L436.19,254.34 L436.85,260.31 L437.00,265.57 L437.00,276.10 L423.00,276.10 L423.00,265.57 L423.15,260.31 L423.81,254.34 L425.43,248.72 L427.50,243.81 L428.40,241.00Z"/><path d="M447.10,241.00 L448.00,243.81 L450.07,248.72 L451.69,254.34 L452.35,260.31 L452.50,265.57 L452.50,276.10 L438.50,276.10 L438.50,265.57 L438.65,260.31 L439.31,254.34 L440.93,248.72 L443.00,243.81 L443.90,241.00Z"/><path d="M463.10,241.00 L464.00,243.81 L466.07,248.72 L467.69,254.34 L468.35,260.31 L468.50,265.57 L468.50,276.10 L454.50,276.10 L454.50,265.57 L454.65,260.31 L455.31,254.34 L456.93,248.72 L459.00,243.81 L459.90,241.00Z"/><path d="M479.40,241.00 L480.30,243.81 L482.37,248.72 L483.99,254.34 L484.65,260.31 L484.80,265.57 L484.80,276.10 L470.80,276.10 L470.80,265.57 L470.95,260.31 L471.61,254.34 L473.23,248.72 L475.30,243.81 L476.20,241.00Z"/></clipPath>
<path d="M415.40,241.00 L416.30,243.81 L418.37,248.72 L419.99,254.34 L420.65,260.31 L420.80,265.57 L420.80,276.10 L406.80,276.10 L406.80,265.57 L406.95,260.31 L407.61,254.34 L409.23,248.72 L411.30,243.81 L412.20,241.00Z" fill="#5850c0" stroke="#9a94d4" stroke-width="0.9"/>
<path d="M431.60,241.00 L432.50,243.81 L434.57,248.72 L436.19,254.34 L436.85,260.31 L437.00,265.57 L437.00,276.10 L423.00,276.10 L423.00,265.57 L423.15,260.31 L423.81,254.34 L425.43,248.72 L427.50,243.81 L428.40,241.00Z" fill="#5850c0" stroke="#9a94d4" stroke-width="0.9"/>
<path d="M447.10,241.00 L448.00,243.81 L450.07,248.72 L451.69,254.34 L452.35,260.31 L452.50,265.57 L452.50,276.10 L438.50,276.10 L438.50,265.57 L438.65,260.31 L439.31,254.34 L440.93,248.72 L443.00,243.81 L443.90,241.00Z" fill="#5850c0" stroke="#9a94d4" stroke-width="0.9"/>
<path d="M463.10,241.00 L464.00,243.81 L466.07,248.72 L467.69,254.34 L468.35,260.31 L468.50,265.57 L468.50,276.10 L454.50,276.10 L454.50,265.57 L454.65,260.31 L455.31,254.34 L456.93,248.72 L459.00,243.81 L459.90,241.00Z" fill="#5850c0" stroke="#9a94d4" stroke-width="0.9"/>
<path d="M479.40,241.00 L480.30,243.81 L482.37,248.72 L483.99,254.34 L484.65,260.31 L484.80,265.57 L484.80,276.10 L470.80,276.10 L470.80,265.57 L470.95,260.31 L471.61,254.34 L473.23,248.72 L475.30,243.81 L476.20,241.00Z" fill="#5850c0" stroke="#9a94d4" stroke-width="0.9"/>
<g clip-path="url(#mc1)">
<ellipse cx="410.5" cy="268.0" rx="5.0" ry="9.0" fill="#e2e2e2"/>
<ellipse cx="412.0" cy="247.0" rx="2.0" ry="3.0" fill="#e2e2e2"/>
<ellipse cx="418.5" cy="262.0" rx="1.4" ry="2.4" fill="#e2e2e2"/>
<ellipse cx="417.0" cy="275.0" rx="3.0" ry="2.0" fill="#e2e2e2"/>
<ellipse cx="433.0" cy="263.4" rx="3.8" ry="3.0" fill="#e2e2e2"/>
<ellipse cx="426.5" cy="272.5" rx="2.8" ry="5.0" fill="#e2e2e2"/>
<ellipse cx="429.5" cy="248.5" rx="1.8" ry="3.0" fill="#e2e2e2"/>
<ellipse cx="434.5" cy="275.0" rx="2.5" ry="2.0" fill="#e2e2e2"/>
<ellipse cx="442.8" cy="269.5" rx="4.6" ry="7.5" fill="#e2e2e2"/>
<ellipse cx="445.0" cy="248.0" rx="1.8" ry="3.0" fill="#e2e2e2"/>
<ellipse cx="450.5" cy="258.0" rx="1.2" ry="2.0" fill="#e2e2e2"/>
<ellipse cx="459.8" cy="263.0" rx="3.8" ry="4.2" fill="#e2e2e2"/>
<ellipse cx="457.0" cy="272.0" rx="2.0" ry="4.0" fill="#e2e2e2"/>
<ellipse cx="461.5" cy="247.5" rx="1.8" ry="2.5" fill="#e2e2e2"/>
<ellipse cx="466.5" cy="275.0" rx="2.0" ry="2.0" fill="#e2e2e2"/>
<ellipse cx="476.5" cy="258.0" rx="7.0" ry="19.0" fill="#e2e2e2"/>
<ellipse cx="483.8" cy="264.0" rx="3.4" ry="5.5" fill="#5850c0"/>
<ellipse cx="476.5" cy="257.6" rx="1.3" ry="1.3" fill="#5850c0"/>
<ellipse cx="474.5" cy="268.0" rx="1.1" ry="1.1" fill="#7a70d0"/>
</g>
<rect x="406.6" y="280.5" width="80.39999999999998" height="37.30000000000001" fill="#2b2b2b"/>
<clipPath id="mc2"><path d="M416.20,281.30 L417.10,284.12 L418.68,289.04 L420.03,294.68 L420.55,300.66 L420.70,305.94 L420.70,316.50 L406.90,316.50 L406.90,305.94 L407.05,300.66 L407.57,294.68 L408.93,289.04 L410.50,284.12 L411.40,281.30Z"/><path d="M432.40,281.30 L433.30,284.12 L434.88,289.04 L436.23,294.68 L436.75,300.66 L436.90,305.94 L436.90,316.50 L423.10,316.50 L423.10,305.94 L423.25,300.66 L423.77,294.68 L425.12,289.04 L426.70,284.12 L427.60,281.30Z"/><path d="M447.90,281.30 L448.80,284.12 L450.38,289.04 L451.73,294.68 L452.25,300.66 L452.40,305.94 L452.40,316.50 L438.60,316.50 L438.60,305.94 L438.75,300.66 L439.27,294.68 L440.62,289.04 L442.20,284.12 L443.10,281.30Z"/><path d="M463.90,281.30 L464.80,284.12 L466.38,289.04 L467.73,294.68 L468.25,300.66 L468.40,305.94 L468.40,316.50 L454.60,316.50 L454.60,305.94 L454.75,300.66 L455.27,294.68 L456.62,289.04 L458.20,284.12 L459.10,281.30Z"/><path d="M480.20,281.30 L481.10,284.12 L482.68,289.04 L484.03,294.68 L484.55,300.66 L484.70,305.94 L484.70,316.50 L470.90,316.50 L470.90,305.94 L471.05,300.66 L471.57,294.68 L472.93,289.04 L474.50,284.12 L475.40,281.30Z"/></clipPath>
<path d="M416.20,281.30 L417.10,284.12 L418.68,289.04 L420.03,294.68 L420.55,300.66 L420.70,305.94 L420.70,316.50 L406.90,316.50 L406.90,305.94 L407.05,300.66 L407.57,294.68 L408.93,289.04 L410.50,284.12 L411.40,281.30Z" fill="#dadada"/>
<path d="M432.40,281.30 L433.30,284.12 L434.88,289.04 L436.23,294.68 L436.75,300.66 L436.90,305.94 L436.90,316.50 L423.10,316.50 L423.10,305.94 L423.25,300.66 L423.77,294.68 L425.12,289.04 L426.70,284.12 L427.60,281.30Z" fill="#dadada"/>
<path d="M447.90,281.30 L448.80,284.12 L450.38,289.04 L451.73,294.68 L452.25,300.66 L452.40,305.94 L452.40,316.50 L438.60,316.50 L438.60,305.94 L438.75,300.66 L439.27,294.68 L440.62,289.04 L442.20,284.12 L443.10,281.30Z" fill="#dadada"/>
<path d="M463.90,281.30 L464.80,284.12 L466.38,289.04 L467.73,294.68 L468.25,300.66 L468.40,305.94 L468.40,316.50 L454.60,316.50 L454.60,305.94 L454.75,300.66 L455.27,294.68 L456.62,289.04 L458.20,284.12 L459.10,281.30Z" fill="#dadada"/>
<path d="M480.20,281.30 L481.10,284.12 L482.68,289.04 L484.03,294.68 L484.55,300.66 L484.70,305.94 L484.70,316.50 L470.90,316.50 L470.90,305.94 L471.05,300.66 L471.57,294.68 L472.93,289.04 L474.50,284.12 L475.40,281.30Z" fill="#dadada"/>
<g clip-path="url(#mc2)">
<ellipse cx="412.4" cy="290.6" rx="1.8" ry="1.3" fill="#bdbdbd"/>
<ellipse cx="412.7" cy="288.1" rx="1.6" ry="1.3" fill="#b0b0b0"/>
<ellipse cx="413.1" cy="293.1" rx="1.7" ry="1.3" fill="#bdbdbd"/>
<ellipse cx="417.4" cy="303.7" rx="1.7" ry="1.3" fill="#b0b0b0"/>
<ellipse cx="410.2" cy="292.5" rx="1.7" ry="1.4" fill="#b0b0b0"/>
<ellipse cx="427.2" cy="289.7" rx="1.4" ry="2.5" fill="#c6c6c6"/>
<ellipse cx="426.8" cy="302.1" rx="1.2" ry="1.4" fill="#bdbdbd"/>
<ellipse cx="430.5" cy="303.4" rx="1.6" ry="2.1" fill="#f2f2f2"/>
<ellipse cx="429.7" cy="311.7" rx="1.4" ry="1.6" fill="#c6c6c6"/>
<ellipse cx="431.6" cy="293.2" rx="1.7" ry="2.0" fill="#f2f2f2"/>
<ellipse cx="447.3" cy="294.4" rx="2.2" ry="1.4" fill="#b0b0b0"/>
<ellipse cx="442.8" cy="295.8" rx="2.1" ry="1.9" fill="#bdbdbd"/>
<ellipse cx="447.6" cy="302.1" rx="2.1" ry="1.7" fill="#f2f2f2"/>
<ellipse cx="446.3" cy="302.3" rx="1.5" ry="2.5" fill="#f2f2f2"/>
<ellipse cx="445.3" cy="304.6" rx="1.1" ry="2.3" fill="#b0b0b0"/>
<ellipse cx="459.8" cy="297.0" rx="1.8" ry="1.2" fill="#b0b0b0"/>
<ellipse cx="460.3" cy="303.2" rx="1.6" ry="1.5" fill="#f2f2f2"/>
<ellipse cx="458.5" cy="293.3" rx="1.5" ry="2.6" fill="#bdbdbd"/>
<ellipse cx="458.8" cy="297.5" rx="1.3" ry="1.4" fill="#b0b0b0"/>
<ellipse cx="464.4" cy="294.1" rx="1.5" ry="1.8" fill="#b0b0b0"/>
<ellipse cx="481.5" cy="290.6" rx="1.2" ry="1.6" fill="#c6c6c6"/>
<ellipse cx="473.9" cy="309.2" rx="1.2" ry="1.7" fill="#c6c6c6"/>
<ellipse cx="477.2" cy="296.6" rx="1.7" ry="2.7" fill="#bdbdbd"/>
<ellipse cx="477.5" cy="310.3" rx="2.1" ry="2.3" fill="#b0b0b0"/>
<ellipse cx="477.0" cy="297.3" rx="1.6" ry="1.8" fill="#c6c6c6"/>
</g>
<ellipse cx="410.0" cy="312.0" rx="3.8" ry="4.6" fill="#5850c0"/>
<ellipse cx="417.0" cy="311.0" rx="4.6" ry="5.2" fill="#5850c0"/>
<ellipse cx="412.0" cy="293.0" rx="1.4" ry="1.5" fill="#4a3f9a"/>
<ellipse cx="415.0" cy="298.0" rx="1.4" ry="1.5" fill="#4a3f9a"/>
<ellipse cx="410.8" cy="300.5" rx="1.1" ry="1.1" fill="#4a3f9a"/>
<ellipse cx="438.0" cy="311.0" rx="5.3" ry="3.4" fill="#5850c0"/>
<ellipse cx="433.5" cy="303.0" rx="1.1" ry="1.1" fill="#5a50a0"/>
<ellipse cx="445.0" cy="295.0" rx="1.3" ry="1.4" fill="#4a3f9a"/>
<ellipse cx="454.0" cy="311.0" rx="5.0" ry="3.4" fill="#5850c0"/>
<ellipse cx="470.0" cy="311.0" rx="4.6" ry="3.4" fill="#5850c0"/>
<ellipse cx="484.5" cy="311.0" rx="2.8" ry="3.6" fill="#5850c0"/>
<rect x="406.6" y="320.4" width="80.39999999999998" height="37.200000000000045" fill="#2b2b2b"/>
<clipPath id="mc3"><path d="M416.20,321.20 L417.10,324.01 L418.68,328.92 L420.03,334.54 L420.55,340.50 L420.70,345.77 L420.70,356.30 L406.90,356.30 L406.90,345.77 L407.05,340.50 L407.57,334.54 L408.93,328.92 L410.50,324.01 L411.40,321.20Z"/><path d="M432.40,321.20 L433.30,324.01 L434.88,328.92 L436.23,334.54 L436.75,340.50 L436.90,345.77 L436.90,356.30 L423.10,356.30 L423.10,345.77 L423.25,340.50 L423.77,334.54 L425.12,328.92 L426.70,324.01 L427.60,321.20Z"/><path d="M447.90,321.20 L448.80,324.01 L450.38,328.92 L451.73,334.54 L452.25,340.50 L452.40,345.77 L452.40,356.30 L438.60,356.30 L438.60,345.77 L438.75,340.50 L439.27,334.54 L440.62,328.92 L442.20,324.01 L443.10,321.20Z"/><path d="M463.90,321.20 L464.80,324.01 L466.38,328.92 L467.73,334.54 L468.25,340.50 L468.40,345.77 L468.40,356.30 L454.60,356.30 L454.60,345.77 L454.75,340.50 L455.27,334.54 L456.62,328.92 L458.20,324.01 L459.10,321.20Z"/><path d="M480.20,321.20 L481.10,324.01 L482.68,328.92 L484.03,334.54 L484.55,340.50 L484.70,345.77 L484.70,356.30 L470.90,356.30 L470.90,345.77 L471.05,340.50 L471.57,334.54 L472.93,328.92 L474.50,324.01 L475.40,321.20Z"/></clipPath>
<path d="M416.20,321.20 L417.10,324.01 L418.68,328.92 L420.03,334.54 L420.55,340.50 L420.70,345.77 L420.70,356.30 L406.90,356.30 L406.90,345.77 L407.05,340.50 L407.57,334.54 L408.93,328.92 L410.50,324.01 L411.40,321.20Z" fill="#dadada"/>
<path d="M432.40,321.20 L433.30,324.01 L434.88,328.92 L436.23,334.54 L436.75,340.50 L436.90,345.77 L436.90,356.30 L423.10,356.30 L423.10,345.77 L423.25,340.50 L423.77,334.54 L425.12,328.92 L426.70,324.01 L427.60,321.20Z" fill="#dadada"/>
<path d="M447.90,321.20 L448.80,324.01 L450.38,328.92 L451.73,334.54 L452.25,340.50 L452.40,345.77 L452.40,356.30 L438.60,356.30 L438.60,345.77 L438.75,340.50 L439.27,334.54 L440.62,328.92 L442.20,324.01 L443.10,321.20Z" fill="#dadada"/>
<path d="M463.90,321.20 L464.80,324.01 L466.38,328.92 L467.73,334.54 L468.25,340.50 L468.40,345.77 L468.40,356.30 L454.60,356.30 L454.60,345.77 L454.75,340.50 L455.27,334.54 L456.62,328.92 L458.20,324.01 L459.10,321.20Z" fill="#dadada"/>
<path d="M480.20,321.20 L481.10,324.01 L482.68,328.92 L484.03,334.54 L484.55,340.50 L484.70,345.77 L484.70,356.30 L470.90,356.30 L470.90,345.77 L471.05,340.50 L471.57,334.54 L472.93,328.92 L474.50,324.01 L475.40,321.20Z" fill="#dadada"/>
<g clip-path="url(#mc3)">
<ellipse cx="410.3" cy="332.1" rx="1.2" ry="1.7" fill="#bdbdbd"/>
<ellipse cx="410.6" cy="341.8" rx="1.6" ry="2.7" fill="#bdbdbd"/>
<ellipse cx="410.4" cy="332.1" rx="1.5" ry="2.2" fill="#f2f2f2"/>
<ellipse cx="414.6" cy="339.3" rx="1.1" ry="2.0" fill="#b0b0b0"/>
<ellipse cx="413.6" cy="334.9" rx="1.2" ry="2.4" fill="#f2f2f2"/>
<ellipse cx="429.8" cy="345.2" rx="1.6" ry="1.5" fill="#f2f2f2"/>
<ellipse cx="427.2" cy="341.2" rx="1.0" ry="2.0" fill="#bdbdbd"/>
<ellipse cx="431.6" cy="333.5" rx="1.4" ry="1.5" fill="#c6c6c6"/>
<ellipse cx="430.3" cy="347.6" rx="1.4" ry="1.6" fill="#c6c6c6"/>
<ellipse cx="432.4" cy="348.7" rx="1.9" ry="1.6" fill="#b0b0b0"/>
<ellipse cx="444.3" cy="327.2" rx="1.0" ry="1.6" fill="#f2f2f2"/>
<ellipse cx="443.0" cy="342.9" rx="1.4" ry="2.5" fill="#f2f2f2"/>
<ellipse cx="449.1" cy="336.3" rx="1.3" ry="1.6" fill="#c6c6c6"/>
<ellipse cx="444.2" cy="339.5" rx="2.2" ry="2.2" fill="#bdbdbd"/>
<ellipse cx="445.3" cy="344.2" rx="2.0" ry="1.3" fill="#bdbdbd"/>
<ellipse cx="464.8" cy="347.7" rx="1.9" ry="2.0" fill="#c6c6c6"/>
<ellipse cx="461.0" cy="343.7" rx="1.1" ry="2.7" fill="#b0b0b0"/>
<ellipse cx="461.2" cy="346.6" rx="1.1" ry="1.5" fill="#c6c6c6"/>
<ellipse cx="457.7" cy="342.5" rx="1.6" ry="2.2" fill="#b0b0b0"/>
<ellipse cx="462.8" cy="335.9" rx="1.7" ry="1.4" fill="#bdbdbd"/>
<ellipse cx="480.2" cy="346.2" rx="1.1" ry="2.4" fill="#c6c6c6"/>
<ellipse cx="477.3" cy="350.1" rx="2.0" ry="1.5" fill="#f2f2f2"/>
<ellipse cx="475.5" cy="340.0" rx="1.9" ry="1.7" fill="#b0b0b0"/>
<ellipse cx="480.5" cy="328.1" rx="1.9" ry="2.6" fill="#b0b0b0"/>
<ellipse cx="480.4" cy="350.3" rx="1.2" ry="1.4" fill="#bdbdbd"/>
</g>
<ellipse cx="421.7" cy="350.3" rx="5.3" ry="3.7" fill="#5850c0"/>
<ellipse cx="438.0" cy="350.3" rx="2.9" ry="2.2" fill="#5850c0"/>
<ellipse cx="450.0" cy="349.0" rx="1.2" ry="1.6" fill="#5850c0"/>
<ellipse cx="470.3" cy="351.0" rx="3.4" ry="3.0" fill="#5850c0"/>
<ellipse cx="483.6" cy="350.7" rx="3.1" ry="4.1" fill="#5850c0"/>
</g>
<text x="402.30" y="225.30" font-size="10.8" font-weight="bold" text-anchor="end" fill="#3a4a90"  stroke="#3a4a90" stroke-width="0.3">Vehicle, QD</text>
<text x="402.30" y="261.60" font-size="10.8" font-weight="bold" text-anchor="end" fill="#c93138"  stroke="#c93138" stroke-width="0.3">19 mg/kg, QD</text>
<text x="402.30" y="303.20" font-size="10.8" font-weight="bold" text-anchor="end" fill="#1f8a4c"  stroke="#1f8a4c" stroke-width="0.3">38 mg/kg, QD</text>
<text x="402.30" y="341.90" font-size="10.8" font-weight="bold" text-anchor="end" fill="#70306f"  stroke="#70306f" stroke-width="0.3">75 mg/kg, QD</text>
<text x="7.40" y="389.60" font-size="16.5" font-weight="bold" text-anchor="start" fill="#111"  stroke="#111" stroke-width="0.3">E</text>
<line x1="83.60" y1="402.00" x2="83.60" y2="505.20" stroke="#111" stroke-width="1.6" />
<line x1="82.90" y1="504.50" x2="254.00" y2="504.50" stroke="#111" stroke-width="1.6" />
<line x1="80.60" y1="504.50" x2="83.60" y2="504.50" stroke="#111" stroke-width="1.3" />
<text transform="translate(78.60,507.90) scale(1.02,1)" font-size="9.9" font-weight="bold" text-anchor="end" fill="#111"  stroke="#111" stroke-width="0.3">0.0</text>
<line x1="80.60" y1="484.05" x2="83.60" y2="484.05" stroke="#111" stroke-width="1.3" />
<text transform="translate(45.30,488.05) scale(1.02,1)" font-size="9.9" font-weight="bold" text-anchor="end" fill="#111"  stroke="#111" stroke-width="0.3">5.0</text>
<text x="51.00" y="488.25" font-size="8.8" font-weight="bold" text-anchor="middle" fill="#111"  stroke="#111" stroke-width="0.3">×</text>
<text transform="translate(58.20,488.05) scale(1.02,1)" font-size="9.9" font-weight="bold" text-anchor="start" fill="#111"  stroke="#111" stroke-width="0.3">10</text>
<text transform="translate(70.40,484.35) scale(1.08,1)" font-size="7.0" font-weight="bold" text-anchor="start" fill="#111"  stroke="#111" stroke-width="0.3">10</text>
<line x1="80.60" y1="463.60" x2="83.60" y2="463.60" stroke="#111" stroke-width="1.3" />
<text transform="translate(45.30,467.60) scale(1.02,1)" font-size="9.9" font-weight="bold" text-anchor="end" fill="#111"  stroke="#111" stroke-width="0.3">1.0</text>
<text x="51.00" y="467.80" font-size="8.8" font-weight="bold" text-anchor="middle" fill="#111"  stroke="#111" stroke-width="0.3">×</text>
<text transform="translate(58.20,467.60) scale(1.02,1)" font-size="9.9" font-weight="bold" text-anchor="start" fill="#111"  stroke="#111" stroke-width="0.3">10</text>
<text transform="translate(70.40,463.90) scale(1.08,1)" font-size="7.0" font-weight="bold" text-anchor="start" fill="#111"  stroke="#111" stroke-width="0.3">11</text>
<line x1="80.60" y1="443.15" x2="83.60" y2="443.15" stroke="#111" stroke-width="1.3" />
<text transform="translate(45.30,447.15) scale(1.02,1)" font-size="9.9" font-weight="bold" text-anchor="end" fill="#111"  stroke="#111" stroke-width="0.3">1.5</text>
<text x="51.00" y="447.35" font-size="8.8" font-weight="bold" text-anchor="middle" fill="#111"  stroke="#111" stroke-width="0.3">×</text>
<text transform="translate(58.20,447.15) scale(1.02,1)" font-size="9.9" font-weight="bold" text-anchor="start" fill="#111"  stroke="#111" stroke-width="0.3">10</text>
<text transform="translate(70.40,443.45) scale(1.08,1)" font-size="7.0" font-weight="bold" text-anchor="start" fill="#111"  stroke="#111" stroke-width="0.3">11</text>
<line x1="80.60" y1="422.70" x2="83.60" y2="422.70" stroke="#111" stroke-width="1.3" />
<text transform="translate(45.30,426.70) scale(1.02,1)" font-size="9.9" font-weight="bold" text-anchor="end" fill="#111"  stroke="#111" stroke-width="0.3">2.0</text>
<text x="51.00" y="426.90" font-size="8.8" font-weight="bold" text-anchor="middle" fill="#111"  stroke="#111" stroke-width="0.3">×</text>
<text transform="translate(58.20,426.70) scale(1.02,1)" font-size="9.9" font-weight="bold" text-anchor="start" fill="#111"  stroke="#111" stroke-width="0.3">10</text>
<text transform="translate(70.40,423.00) scale(1.08,1)" font-size="7.0" font-weight="bold" text-anchor="start" fill="#111"  stroke="#111" stroke-width="0.3">11</text>
<line x1="80.60" y1="402.25" x2="83.60" y2="402.25" stroke="#111" stroke-width="1.3" />
<text transform="translate(45.30,406.25) scale(1.02,1)" font-size="9.9" font-weight="bold" text-anchor="end" fill="#111"  stroke="#111" stroke-width="0.3">2.5</text>
<text x="51.00" y="406.45" font-size="8.8" font-weight="bold" text-anchor="middle" fill="#111"  stroke="#111" stroke-width="0.3">×</text>
<text transform="translate(58.20,406.25) scale(1.02,1)" font-size="9.9" font-weight="bold" text-anchor="start" fill="#111"  stroke="#111" stroke-width="0.3">10</text>
<text transform="translate(70.40,402.55) scale(1.08,1)" font-size="7.0" font-weight="bold" text-anchor="start" fill="#111"  stroke="#111" stroke-width="0.3">11</text>
<line x1="83.75" y1="504.50" x2="83.75" y2="507.50" stroke="#111" stroke-width="1.3" />
<text x="83.75" y="519.30" font-size="10.2" font-weight="bold" text-anchor="middle" fill="#111"  stroke="#111" stroke-width="0.3">0</text>
<line x1="126.25" y1="504.50" x2="126.25" y2="507.50" stroke="#111" stroke-width="1.3" />
<text x="126.25" y="519.30" font-size="10.2" font-weight="bold" text-anchor="middle" fill="#111"  stroke="#111" stroke-width="0.3">10</text>
<line x1="168.75" y1="504.50" x2="168.75" y2="507.50" stroke="#111" stroke-width="1.3" />
<text x="168.75" y="519.30" font-size="10.2" font-weight="bold" text-anchor="middle" fill="#111"  stroke="#111" stroke-width="0.3">20</text>
<line x1="211.25" y1="504.50" x2="211.25" y2="507.50" stroke="#111" stroke-width="1.3" />
<text x="211.25" y="519.30" font-size="10.2" font-weight="bold" text-anchor="middle" fill="#111"  stroke="#111" stroke-width="0.3">30</text>
<line x1="253.75" y1="504.50" x2="253.75" y2="507.50" stroke="#111" stroke-width="1.3" />
<text x="253.75" y="519.30" font-size="10.2" font-weight="bold" text-anchor="middle" fill="#111"  stroke="#111" stroke-width="0.3">40</text>
<text x="176.60" y="533.80" font-size="11" font-weight="bold" text-anchor="middle" fill="#111" textLength="94.5" lengthAdjust="spacingAndGlyphs"  stroke="#111" stroke-width="0.3">Days on treatment</text>
<text transform="translate(10.8,452.3) rotate(-90)" font-size="11" font-weight="bold" text-anchor="middle" fill="#111" textLength="49" lengthAdjust="spacingAndGlyphs" stroke="#111" stroke-width="0.3">Total flux</text>
<text transform="translate(22.3,456.4) rotate(-90)" font-size="11" font-weight="bold" text-anchor="middle" fill="#111" textLength="95" lengthAdjust="spacingAndGlyphs" stroke="#111" stroke-width="0.3">bioluminescence</text>
<line x1="223.40" y1="389.00" x2="223.40" y2="504.50" stroke="#111" stroke-width="1.1" stroke-dasharray="1.2 1.5"/>
<rect x="189" y="389" width="73" height="11" fill="#fff"/>
<text x="191.40" y="398.00" font-size="10.2" font-weight="normal" text-anchor="start" fill="#111" textLength="70.2" lengthAdjust="spacingAndGlyphs"  stroke="#111" stroke-width="0.15">Dosing stopped</text>
<line x1="223.40" y1="389.00" x2="223.40" y2="400.00" stroke="#111" stroke-width="1.1" stroke-dasharray="1.2 1.5"/>
<polyline points="88.00,504.50 105.00,504.50 134.75,504.50 164.50,504.30 194.25,503.68 228.25,503.07 253.75,501.43" fill="none" stroke="#8a4a9e" stroke-width="2.4" stroke-linejoin="round" />
<polygon points="88.00,507.50 91.00,502.25 85.00,502.25" fill="#8a4a9e"/>
<polygon points="105.00,507.50 108.00,502.25 102.00,502.25" fill="#8a4a9e"/>
<polygon points="134.75,507.50 137.75,502.25 131.75,502.25" fill="#8a4a9e"/>
<polygon points="164.50,507.30 167.50,502.05 161.50,502.05" fill="#8a4a9e"/>
<polygon points="194.25,506.68 197.25,501.43 191.25,501.43" fill="#8a4a9e"/>
<polygon points="228.25,506.07 231.25,500.82 225.25,500.82" fill="#8a4a9e"/>
<polygon points="253.75,504.43 256.75,499.18 250.75,499.18" fill="#8a4a9e"/>
<polyline points="88.00,504.50 105.00,504.50 134.75,504.50 164.50,504.30 194.25,503.27 228.25,501.43 253.75,492.23" fill="none" stroke="#2ea84a" stroke-width="1.8" stroke-linejoin="round" />
<polygon points="88.00,501.50 91.00,506.75 85.00,506.75" fill="#2ea84a"/>
<polygon points="105.00,501.50 108.00,506.75 102.00,506.75" fill="#2ea84a"/>
<polygon points="134.75,501.50 137.75,506.75 131.75,506.75" fill="#2ea84a"/>
<polygon points="164.50,501.30 167.50,506.55 161.50,506.55" fill="#2ea84a"/>
<polygon points="194.25,500.27 197.25,505.52 191.25,505.52" fill="#2ea84a"/>
<polygon points="228.25,498.43 231.25,503.68 225.25,503.68" fill="#2ea84a"/>
<polygon points="253.75,489.23 256.75,494.48 250.75,494.48" fill="#2ea84a"/>
<line x1="253.75" y1="475.46" x2="253.75" y2="482.82" stroke="#e2382c" stroke-width="1.3" />
<line x1="250.55" y1="475.46" x2="256.95" y2="475.46" stroke="#e2382c" stroke-width="1.3" />
<line x1="250.55" y1="482.82" x2="256.95" y2="482.82" stroke="#e2382c" stroke-width="1.3" />
<polyline points="88.00,504.50 105.00,504.50 134.75,504.50 164.50,504.09 194.25,501.64 228.25,497.14 253.75,479.14" fill="none" stroke="#e2382c" stroke-width="1.8" stroke-linejoin="round" />
<rect x="85.34" y="501.84" width="5.319999999999999" height="5.319999999999999" fill="#e2382c"/>
<rect x="102.34" y="501.84" width="5.319999999999999" height="5.319999999999999" fill="#e2382c"/>
<rect x="132.09" y="501.84" width="5.319999999999999" height="5.319999999999999" fill="#e2382c"/>
<rect x="161.84" y="501.43" width="5.319999999999999" height="5.319999999999999" fill="#e2382c"/>
<rect x="191.59" y="498.98" width="5.319999999999999" height="5.319999999999999" fill="#e2382c"/>
<rect x="225.59" y="494.48" width="5.319999999999999" height="5.319999999999999" fill="#e2382c"/>
<rect x="251.09" y="476.48" width="5.319999999999999" height="5.319999999999999" fill="#e2382c"/>
<line x1="253.75" y1="403.48" x2="253.75" y2="446.42" stroke="#30489a" stroke-width="1.4" />
<line x1="250.55" y1="446.42" x2="256.95" y2="446.42" stroke="#30489a" stroke-width="1.4" />
<polyline points="88.00,504.50 105.00,504.50 134.75,504.50 164.50,504.09 194.25,500.61 228.25,488.55 253.75,420.66" fill="none" stroke="#30489a" stroke-width="1.8" stroke-linejoin="round" />
<rect x="85.30" y="501.80" width="5.4" height="5.4" rx="1" fill="#4b4fa3"/>
<rect x="102.30" y="501.80" width="5.4" height="5.4" rx="1" fill="#4b4fa3"/>
<rect x="132.05" y="501.80" width="5.4" height="5.4" rx="1" fill="#4b4fa3"/>
<rect x="161.80" y="501.39" width="5.4" height="5.4" rx="1" fill="#4b4fa3"/>
<circle cx="194.25" cy="500.61" r="2.6" fill="#30489a"/>
<circle cx="228.25" cy="488.55" r="2.6" fill="#30489a"/>
<circle cx="253.75" cy="420.66" r="2.6" fill="#30489a"/>
<line x1="100.10" y1="547.40" x2="115.90" y2="547.40" stroke="#30489a" stroke-width="1.3" />
<circle cx="107.80" cy="547.40" r="2.2" fill="#30489a"/>
<text x="123.50" y="551.30" font-size="10.6" font-weight="normal" text-anchor="start" fill="#111" textLength="81" lengthAdjust="spacingAndGlyphs"  stroke="#111" stroke-width="0.15">Vehicle, QD, p.o.</text>
<line x1="100.10" y1="563.30" x2="115.90" y2="563.30" stroke="#e2382c" stroke-width="1.3" />
<rect x="105.55" y="561.05" width="4.5" height="4.5" fill="#e2382c"/>
<text x="123.50" y="567.20" font-size="10.6" font-weight="normal" text-anchor="start" fill="#111" textLength="152.3" lengthAdjust="spacingAndGlyphs"  stroke="#111" stroke-width="0.15">IACS-13909 19 mg/kg, QD, p.o.</text>
<text x="313.20" y="389.40" font-size="16" font-weight="bold" text-anchor="start" fill="#111"  stroke="#111" stroke-width="0.3">F</text>
<line x1="344.00" y1="402.70" x2="344.00" y2="504.70" stroke="#111" stroke-width="1.6" />
<line x1="343.30" y1="504.00" x2="513.00" y2="504.00" stroke="#111" stroke-width="1.6" />
<line x1="341.00" y1="411.50" x2="344.00" y2="411.50" stroke="#111" stroke-width="1.3" />
<text x="339.50" y="415.10" font-size="10.5" font-weight="bold" text-anchor="end" fill="#111"  stroke="#111" stroke-width="0.3">100</text>
<line x1="341.00" y1="457.75" x2="344.00" y2="457.75" stroke="#111" stroke-width="1.3" />
<text x="339.50" y="461.35" font-size="10.5" font-weight="bold" text-anchor="end" fill="#111"  stroke="#111" stroke-width="0.3">50</text>
<line x1="341.00" y1="504.00" x2="344.00" y2="504.00" stroke="#111" stroke-width="1.3" />
<text x="339.50" y="507.60" font-size="10.5" font-weight="bold" text-anchor="end" fill="#111"  stroke="#111" stroke-width="0.3">0</text>
<line x1="344.30" y1="504.00" x2="344.30" y2="507.00" stroke="#111" stroke-width="1.3" />
<text x="344.30" y="519.00" font-size="10.2" font-weight="bold" text-anchor="middle" fill="#111"  stroke="#111" stroke-width="0.3">0</text>
<line x1="364.60" y1="504.00" x2="364.60" y2="507.00" stroke="#111" stroke-width="1.3" />
<text x="364.60" y="519.00" font-size="10.2" font-weight="bold" text-anchor="middle" fill="#111"  stroke="#111" stroke-width="0.3">7</text>
<line x1="384.90" y1="504.00" x2="384.90" y2="507.00" stroke="#111" stroke-width="1.3" />
<text x="384.90" y="519.00" font-size="10.2" font-weight="bold" text-anchor="middle" fill="#111"  stroke="#111" stroke-width="0.3">14</text>
<line x1="405.20" y1="504.00" x2="405.20" y2="507.00" stroke="#111" stroke-width="1.3" />
<text x="405.20" y="519.00" font-size="10.2" font-weight="bold" text-anchor="middle" fill="#111"  stroke="#111" stroke-width="0.3">21</text>
<line x1="425.50" y1="504.00" x2="425.50" y2="507.00" stroke="#111" stroke-width="1.3" />
<text x="425.50" y="519.00" font-size="10.2" font-weight="bold" text-anchor="middle" fill="#111"  stroke="#111" stroke-width="0.3">28</text>
<line x1="445.80" y1="504.00" x2="445.80" y2="507.00" stroke="#111" stroke-width="1.3" />
<text x="445.80" y="519.00" font-size="10.2" font-weight="bold" text-anchor="middle" fill="#111"  stroke="#111" stroke-width="0.3">35</text>
<line x1="466.10" y1="504.00" x2="466.10" y2="507.00" stroke="#111" stroke-width="1.3" />
<text x="466.10" y="519.00" font-size="10.2" font-weight="bold" text-anchor="middle" fill="#111"  stroke="#111" stroke-width="0.3">42</text>
<line x1="486.40" y1="504.00" x2="486.40" y2="507.00" stroke="#111" stroke-width="1.3" />
<text x="486.40" y="519.00" font-size="10.2" font-weight="bold" text-anchor="middle" fill="#111"  stroke="#111" stroke-width="0.3">49</text>
<line x1="506.70" y1="504.00" x2="506.70" y2="507.00" stroke="#111" stroke-width="1.3" />
<text x="506.70" y="519.00" font-size="10.2" font-weight="bold" text-anchor="middle" fill="#111"  stroke="#111" stroke-width="0.3">56</text>
<text x="426.20" y="533.80" font-size="11" font-weight="bold" text-anchor="middle" fill="#111" textLength="95.2" lengthAdjust="spacingAndGlyphs"  stroke="#111" stroke-width="0.3">Days on treatment</text>
<text transform="translate(314.5,453.2) rotate(-90)" font-size="11" font-weight="bold" text-anchor="middle" fill="#111" textLength="99.5" lengthAdjust="spacingAndGlyphs" stroke="#111" stroke-width="0.3">Overall survival (%)</text>
<line x1="440.10" y1="395.50" x2="440.10" y2="504.00" stroke="#111" stroke-width="1.1" stroke-dasharray="1.2 1.5"/>
<text x="407.60" y="398.00" font-size="10.2" font-weight="normal" text-anchor="start" fill="#111" textLength="70.0" lengthAdjust="spacingAndGlyphs"  stroke="#111" stroke-width="0.15">Dosing stopped</text>
<polyline points="344.80,411.60 478.50,411.60 478.50,422.10 480.60,422.10 480.60,431.70 486.30,431.70 486.30,462.50 498.50,462.50 498.50,493.70 507.10,493.70 507.10,504.00" fill="none" stroke="#8a4a9e" stroke-width="1.7" stroke-linejoin="round" stroke-linejoin="miter"/>
<polyline points="344.80,411.60 448.90,411.60 448.90,420.70 457.70,420.70 457.70,430.20 463.30,430.20 463.30,448.40 466.50,448.40 466.50,457.80 469.00,457.80 469.00,466.40 474.60,466.40 474.60,476.10 477.50,476.10 477.50,504.00" fill="none" stroke="#2ea84a" stroke-width="1.7" stroke-linejoin="round" stroke-linejoin="miter"/>
<polyline points="344.80,411.60 448.90,411.60 448.90,430.20 454.60,430.20 454.60,467.00 460.50,467.00 460.50,485.40 466.70,485.40 466.70,494.20 475.40,494.20 475.40,504.00" fill="none" stroke="#e2382c" stroke-width="1.7" stroke-linejoin="round" stroke-linejoin="miter"/>
<polyline points="344.80,411.60 442.80,411.60 442.80,421.00 448.90,421.00 448.90,448.40 457.00,448.40 457.00,466.40 460.50,466.40 460.50,485.40 463.30,485.40 463.30,504.00" fill="none" stroke="#30489a" stroke-width="1.7" stroke-linejoin="round" stroke-linejoin="miter"/>
<line x1="359.20" y1="409.00" x2="359.20" y2="412.00" stroke="#30489a" stroke-width="1" />
<line x1="340.30" y1="548.50" x2="356.40" y2="548.50" stroke="#2ea84a" stroke-width="1.3" />
<polygon points="348.30,545.98 350.82,550.39 345.78,550.39" fill="#2ea84a"/>
<text x="366.70" y="551.80" font-size="10.6" font-weight="normal" text-anchor="start" fill="#111" textLength="149.5" lengthAdjust="spacingAndGlyphs"  stroke="#111" stroke-width="0.15">IACS-13909 38 mg/kg, QD, p.o.</text>
<line x1="340.30" y1="563.80" x2="356.40" y2="563.80" stroke="#8a4a9e" stroke-width="1.3" />
<polygon points="348.30,566.32 350.82,561.91 345.78,561.91" fill="#8a4a9e"/>
<text x="366.70" y="568.00" font-size="10.6" font-weight="normal" text-anchor="start" fill="#111" textLength="151.0" lengthAdjust="spacingAndGlyphs"  stroke="#111" stroke-width="0.15">IACS-13909 75 mg/kg, QD, p.o.</text>
</svg>
</body></html>
